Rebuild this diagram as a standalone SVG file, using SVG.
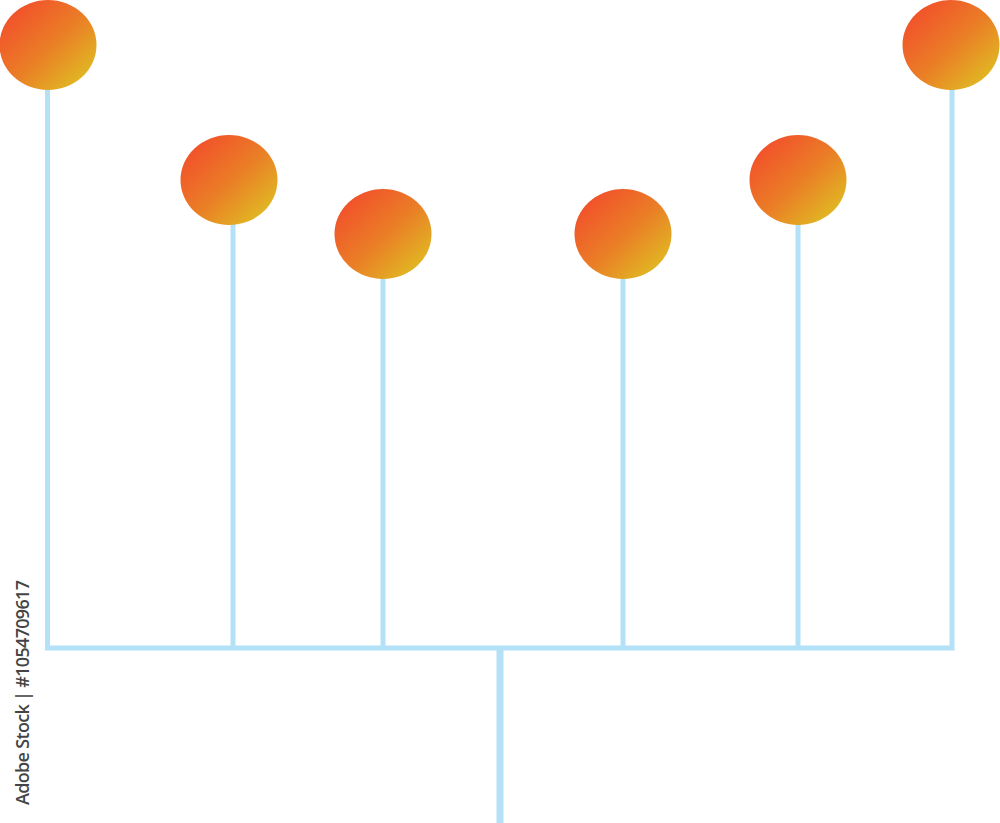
<svg xmlns="http://www.w3.org/2000/svg" width="1000" height="823" viewBox="0 0 1000 823">
  <defs>
    <linearGradient id="g" x1="0.1" y1="0.1" x2="0.95" y2="0.95">
      <stop offset="0" stop-color="#f24e2b"/>
      <stop offset="0.5" stop-color="#ea7f26"/>
      <stop offset="1" stop-color="#dec422"/>
    </linearGradient>
    <style>
      .ln { stroke: #b3e1f8; stroke-width: 5; fill: none; }
      .nd { fill: url(#g); }
      .wm { font-family: "Open Sans", "Noto Sans", sans-serif; font-size: 18px; font-weight: 600; fill: #444444; }
    </style>
  </defs>
  <rect width="1000" height="823" fill="#ffffff"/>
  <g id="connectors">
    <path class="ln" d="M47.5 85 V648 H952 V85"/>
    <path class="ln" d="M233 220 V648"/>
    <path class="ln" d="M383 275 V648"/>
    <path class="ln" d="M623 275 V648"/>
    <path class="ln" d="M798 220 V648"/>
    <path class="ln" d="M500 648 V823" style="stroke-width:7"/>
  </g>
  <g id="node1"><ellipse class="nd" cx="48" cy="45" rx="48.5" ry="45"/></g>
  <g id="node2"><ellipse class="nd" cx="229" cy="180" rx="48.5" ry="45"/></g>
  <g id="node3"><ellipse class="nd" cx="383" cy="234" rx="48.5" ry="45"/></g>
  <g id="node4"><ellipse class="nd" cx="623" cy="234" rx="48.5" ry="45"/></g>
  <g id="node5"><ellipse class="nd" cx="798" cy="180" rx="48.5" ry="45"/></g>
  <g id="node6"><ellipse class="nd" cx="951" cy="45" rx="48.5" ry="45"/></g>
  <text class="wm" transform="translate(29 805) rotate(-90)" textLength="225" lengthAdjust="spacing">Adobe Stock | #1054709617</text>
</svg>
